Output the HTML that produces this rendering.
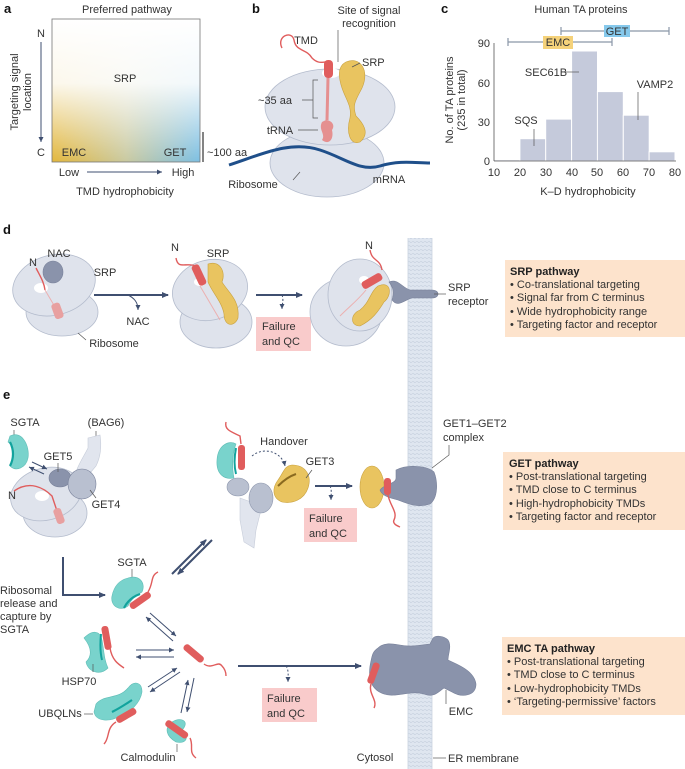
<!DOCTYPE html>
<html><head><meta charset="utf-8"><style>
html,body{margin:0;padding:0;background:#fff}
svg{display:block}
text{font-family:"Liberation Sans",sans-serif;font-size:11px;fill:#333}
.b{font-weight:bold;fill:#222}
.lbl{font-weight:bold;font-size:13px;fill:#111}
.rib{fill:#dfe3ec;stroke:#b4bccd;stroke-width:0.8}
.gr{fill:#8a93ab;stroke:#78819a;stroke-width:0.6}
.tl{fill:#79d3cc;stroke:#5fbdb6;stroke-width:0.6}
.ye{fill:#e9c460;stroke:#c9a240;stroke-width:0.6}
.rd{fill:#e05d5d}
.rl{fill:none;stroke:#e05d5d;stroke-width:1.4}
.ar{stroke:#3f4f70;stroke-width:2;fill:none}
.ar1{stroke:#3f4f70;stroke-width:1;fill:none}
.ln{stroke:#555;stroke-width:0.7;fill:none}
.dash{stroke:#3f4f70;stroke-width:1;stroke-dasharray:2 2;fill:none}
</style></head><body>
<svg width="685" height="769" viewBox="0 0 685 769" xmlns="http://www.w3.org/2000/svg">
<defs>
<marker id="ah" markerWidth="8" markerHeight="8" refX="6" refY="3" orient="auto" markerUnits="userSpaceOnUse"><path d="M0,0 L7,3 L0,6 z" fill="#3f4f70"/></marker>
<marker id="as" markerWidth="6" markerHeight="6" refX="5" refY="2.5" orient="auto" markerUnits="userSpaceOnUse"><path d="M0,0 L5,2.5 L0,5 z" fill="#3f4f70"/></marker>
<linearGradient id="gx" x1="0" x2="1" y1="0" y2="0"><stop offset="0" stop-color="#e3b73c"/><stop offset="0.5" stop-color="#c9c9a0"/><stop offset="1" stop-color="#7cbfe3"/></linearGradient>
<linearGradient id="gw" x1="0" x2="0" y1="0" y2="1"><stop offset="0" stop-color="#fff" stop-opacity="1"/><stop offset="0.45" stop-color="#fff" stop-opacity="0.9"/><stop offset="1" stop-color="#fff" stop-opacity="0"/></linearGradient>
<pattern id="mem" width="4" height="4" patternUnits="userSpaceOnUse"><rect width="4" height="4" fill="#dfe6f0"/><path d="M0,2 Q1,1 2,2 T4,2" stroke="#c6d0de" stroke-width="0.6" fill="none"/></pattern>
</defs>

<!-- membrane -->
<rect x="408" y="238" width="24" height="531" fill="url(#mem)"/>
<line x1="408" y1="238" x2="408" y2="769" stroke="#c9d2e0" stroke-width="0.8"/>
<line x1="432" y1="238" x2="432" y2="769" stroke="#c9d2e0" stroke-width="0.8"/>

<!-- Panel a -->
<text x="4" y="13" class="lbl">a</text>
<text x="127" y="13" text-anchor="middle">Preferred pathway</text>
<rect x="52" y="19" width="148" height="143" fill="url(#gx)"/>
<rect x="52" y="19" width="148" height="143" fill="url(#gw)"/>
<rect x="52" y="19" width="148" height="143" fill="none" stroke="#777" stroke-width="0.8"/>
<text x="41" y="37" text-anchor="middle">N</text>
<text x="41" y="156" text-anchor="middle">C</text>
<line x1="41" y1="42" x2="41" y2="142" class="ar1" marker-end="url(#as)"/>
<text transform="translate(18,92) rotate(-90)" text-anchor="middle">Targeting signal</text>
<text transform="translate(31,92) rotate(-90)" text-anchor="middle">location</text>
<text x="125" y="82" text-anchor="middle">SRP</text>
<text x="74" y="156" text-anchor="middle">EMC</text>
<text x="175" y="156" text-anchor="middle">GET</text>
<line x1="203" y1="132" x2="203" y2="162" stroke="#333" stroke-width="1.2"/>
<text x="207" y="156">~100 aa</text>
<text x="69" y="176" text-anchor="middle">Low</text>
<line x1="87" y1="172" x2="162" y2="172" class="ar1" marker-end="url(#as)"/>
<text x="183" y="176" text-anchor="middle">High</text>
<text x="125" y="195" text-anchor="middle">TMD hydrophobicity</text>

<!-- Panel b -->
<text x="252" y="13" class="lbl">b</text>
<text x="369" y="14" text-anchor="middle">Site of signal</text>
<text x="369" y="27" text-anchor="middle">recognition</text>
<line x1="338" y1="30" x2="338" y2="62" class="ln"/>
<ellipse cx="327" cy="163" rx="57" ry="34" class="rib"/>
<ellipse cx="330" cy="107" rx="65" ry="38" class="rib"/>
<ellipse cx="331" cy="73" rx="9" ry="5" fill="#fff"/>
<path d="M229,165 C260,155 290,140 320,150 C345,158 360,172 380,166 C400,160 415,163 430,163" stroke="#1f4f8a" stroke-width="3" fill="none"/>
<path d="M282,48 C276,36 292,30 294,40 C296,52 306,48 312,58 C318,64 322,62 326,62" class="rl"/>
<rect x="324" y="60" width="9" height="18" rx="4" class="rd"/>
<path d="M328,78 L327,120" stroke="#e59090" stroke-width="3" fill="none"/>
<path d="M322,122 C318,130 326,134 322,140 C330,146 334,138 332,130 C336,124 330,120 326,120 z" fill="#e59090"/>
<path d="M346,62 C360,56 370,70 362,88 C356,100 352,104 356,116 C364,124 370,134 360,142 C350,146 346,132 350,118 C352,106 346,100 342,88 C338,76 338,66 346,62 z" class="ye"/>
<text x="306" y="44" text-anchor="middle">TMD</text>
<text x="362" y="66">SRP</text>
<line x1="352" y1="67" x2="360" y2="63" class="ln"/>
<text x="275" y="104" text-anchor="middle">~35 aa</text>
<path d="M318,80 L313,80 L313,118 L318,118 M313,100 L302,100" class="ln"/>
<text x="280" y="134" text-anchor="middle">tRNA</text>
<line x1="298" y1="130" x2="318" y2="130" class="ln"/>
<text x="253" y="188" text-anchor="middle">Ribosome</text>
<line x1="293" y1="180" x2="300" y2="172" class="ln"/>
<text x="389" y="183" text-anchor="middle">mRNA</text>

<!-- Panel c -->
<text x="441" y="13" class="lbl">c</text>
<text x="581" y="13" text-anchor="middle">Human TA proteins</text>
<g fill="#c5cadb" stroke="#fff" stroke-width="1">
<rect x="494" y="159.7" width="25.9" height="1.3"/>
<rect x="519.9" y="138.7" width="25.9" height="22.3"/>
<rect x="545.7" y="119.1" width="25.9" height="41.9"/>
<rect x="571.6" y="51" width="25.9" height="110"/>
<rect x="597.4" y="91.6" width="25.9" height="69.4"/>
<rect x="623.3" y="115.2" width="25.9" height="45.8"/>
<rect x="649.1" y="151.8" width="25.9" height="9.2"/>
</g>
<line x1="494" y1="43" x2="494" y2="161" stroke="#555" stroke-width="0.8"/>
<line x1="494" y1="161" x2="676" y2="161" stroke="#555" stroke-width="0.8"/>
<g text-anchor="end"><text x="490" y="165">0</text><text x="490" y="126">30</text><text x="490" y="87">60</text><text x="490" y="47">90</text></g>
<g text-anchor="middle"><text x="494" y="176">10</text><text x="520" y="176">20</text><text x="546" y="176">30</text><text x="572" y="176">40</text><text x="597" y="176">50</text><text x="623" y="176">60</text><text x="649" y="176">70</text><text x="675" y="176">80</text></g>
<text transform="translate(453,100) rotate(-90)" text-anchor="middle">No. of TA proteins</text>
<text transform="translate(465,100) rotate(-90)" text-anchor="middle">(235 in total)</text>
<text x="588" y="195" text-anchor="middle">K–D hydrophobicity</text>
<path d="M508,42 L612,42 M508,38 L508,46 M612,38 L612,46" stroke="#8a97a8" stroke-width="1.2"/>
<path d="M561,31 L669,31 M561,27 L561,35 M669,27 L669,35" stroke="#8a97a8" stroke-width="1.2"/>
<rect x="543" y="36" width="30" height="13" fill="#f5d27a"/><text x="558" y="46" text-anchor="middle">EMC</text>
<rect x="604" y="25" width="26" height="12" fill="#86c9ec"/><text x="617" y="35" text-anchor="middle">GET</text>
<text x="546" y="76" text-anchor="middle">SEC61B</text><line x1="564" y1="72" x2="579" y2="72" class="ln"/>
<text x="655" y="88" text-anchor="middle">VAMP2</text><line x1="638" y1="92" x2="638" y2="120" class="ln"/>
<text x="526" y="124" text-anchor="middle">SQS</text><line x1="534" y1="129" x2="534" y2="146" class="ln"/>

<!-- Panel d -->
<text x="3" y="234" class="lbl">d</text>
<ellipse cx="62" cy="312" rx="36" ry="24" class="rib"/>
<ellipse cx="54" cy="285" rx="42" ry="30" class="rib" transform="rotate(-15 54 285)"/>
<ellipse cx="41" cy="288" rx="7" ry="5" fill="#fff"/>
<ellipse cx="53" cy="272" rx="10" ry="11" class="gr"/>
<text x="59" y="257" text-anchor="middle">NAC</text>
<text x="33" y="266" text-anchor="middle">N</text>
<path d="M36,268 C40,276 44,282 45,290" class="rl"/>
<path d="M45,290 L58,312" stroke="#ecb0b0" stroke-width="1"/>
<rect x="53" y="303" width="9" height="16" rx="3" fill="#e8a0a0" transform="rotate(-20 57 311)"/>
<text x="114" y="347" text-anchor="middle">Ribosome</text><line x1="78" y1="333" x2="86" y2="340" class="ln"/>
<line x1="94" y1="295" x2="168" y2="295" class="ar" marker-end="url(#ah)"/>
<text x="105" y="276" text-anchor="middle">SRP</text>
<path d="M128,295 C134,298 138,302 138,310" class="ar1" marker-end="url(#as)"/>
<text x="138" y="325" text-anchor="middle">NAC</text>

<ellipse cx="216" cy="322" rx="36" ry="26" class="rib"/>
<ellipse cx="210" cy="290" rx="38" ry="30" class="rib" transform="rotate(-15 210 290)"/>
<ellipse cx="200" cy="282" rx="6" ry="4" fill="#fff"/>
<path d="M200,286 L220,320" stroke="#ecb0b0" stroke-width="1"/>
<path d="M176,258 C178,270 186,262 196,266" class="rl"/>
<rect x="195" y="264" width="8" height="22" rx="3" class="rd" transform="rotate(-25 199 275)"/>
<path d="M208,264 C220,260 226,272 222,282 C228,292 240,300 238,318 C234,328 224,326 224,314 C222,302 212,292 208,282 z" class="ye"/>
<text x="175" y="251" text-anchor="middle">N</text>
<text x="218" y="257" text-anchor="middle">SRP</text>
<line x1="256" y1="295" x2="302" y2="295" class="ar" marker-end="url(#ah)"/>
<path d="M282,295 C284,300 282,304 282,309" class="dash" marker-end="url(#as)"/>
<rect x="256" y="317" width="55" height="34" fill="#f9cbcb"/>
<text x="262" y="330">Failure</text><text x="262" y="345">and QC</text>

<ellipse cx="346" cy="312" rx="36" ry="34" class="rib"/>
<ellipse cx="360" cy="295" rx="32" ry="36" class="rib"/>
<ellipse cx="364" cy="280" rx="5" ry="4" fill="#fff"/>
<path d="M340,316 C350,306 358,300 366,290" stroke="#ecb0b0" stroke-width="1" fill="none"/>
<path d="M370,250 C372,262 380,258 382,270" class="rl"/>
<rect x="368" y="270" width="8" height="22" rx="3" class="rd" transform="rotate(60 372 281)"/>
<path d="M378,286 C392,280 392,296 384,302 C378,312 372,320 360,326 C350,326 350,314 360,310 C370,302 370,292 378,286 z" class="ye"/>
<path d="M389,282 C398,278 402,288 410,290 L432,290 C440,290 440,298 432,298 L412,298 C404,300 398,308 392,300 C394,294 394,288 389,282 z" class="gr"/>
<text x="369" y="249" text-anchor="middle">N</text>
<line x1="434" y1="294" x2="446" y2="294" class="ln"/>
<text x="448" y="291">SRP</text><text x="448" y="305">receptor</text>
<rect x="505" y="260" width="180" height="77" fill="#fde3cc"/>
<text x="510" y="275" class="b">SRP pathway</text>
<text x="510" y="288">• Co-translational targeting</text>
<text x="510" y="301">• Signal far from C terminus</text>
<text x="510" y="315">• Wide hydrophobicity range</text>
<text x="510" y="328">• Targeting factor and receptor</text>

<!-- Panel e -->
<text x="3" y="399" class="lbl">e</text>
<text x="25" y="426" text-anchor="middle">SGTA</text>
<text x="106" y="426" text-anchor="middle">(BAG6)</text>
<line x1="14" y1="430" x2="14" y2="440" class="ln"/>
<path d="M10,436 C22,430 30,446 28,458 C26,468 16,472 10,466 C16,456 14,446 8,442 z" class="tl"/>
<path d="M10,442 C14,450 14,458 10,466" stroke="#12a39d" stroke-width="2.2" fill="none"/>
<line x1="96" y1="431" x2="96" y2="438" class="ln"/>
<path d="M88,438 L100,435 C102,448 100,458 96,466 L86,478 L74,484 C74,470 82,460 88,448 z" fill="#e1e5ee" stroke="#c6ccd9" stroke-width="0.6"/>
<ellipse cx="55" cy="513" rx="32" ry="24" class="rib"/>
<ellipse cx="46" cy="494" rx="36" ry="26" class="rib" transform="rotate(-15 46 494)"/>
<ellipse cx="42" cy="496" rx="7" ry="5" fill="#fff"/>
<path d="M14,491 C30,480 44,488 52,496 L60,520" class="rl"/>
<rect x="55" y="508" width="8" height="16" rx="3" fill="#e8a0a0" transform="rotate(-20 59 516)"/>
<ellipse cx="60" cy="478" rx="11" ry="9" class="gr" fill="#b9c0d0"/>
<ellipse cx="82" cy="484" rx="14" ry="15" class="gr" style="fill:#b9c0d0"/>
<text x="8" y="499">N</text>
<text x="58" y="460" text-anchor="middle">GET5</text>
<line x1="58" y1="463" x2="58" y2="472" class="ln"/>
<text x="106" y="508" text-anchor="middle">GET4</text>
<line x1="90" y1="490" x2="96" y2="498" class="ln"/>
<line x1="32" y1="462" x2="47" y2="469" class="ar1" marker-end="url(#as)"/>
<line x1="44" y1="474" x2="29" y2="467" class="ar1" marker-end="url(#as)"/>
<path d="M63,557 L63,595 L105,595" class="ar" marker-end="url(#ah)"/>
<text x="0" y="594">Ribosomal</text><text x="0" y="607">release and</text><text x="0" y="620">capture by</text><text x="0" y="633">SGTA</text>

<text x="132" y="566" text-anchor="middle">SGTA</text>
<line x1="132" y1="569" x2="132" y2="580" class="ln"/>
<path d="M128,578 C140,574 146,584 142,592 C136,596 132,598 128,606 C120,612 110,606 112,596 C114,586 120,580 128,578 z" class="tl"/>
<path d="M124,608 C128,600 134,596 140,594" stroke="#12a39d" stroke-width="2.2" fill="none"/>
<rect x="128" y="597" width="24" height="7" rx="3" class="rd" transform="rotate(-35 140 600)"/>
<path d="M148,592 C154,582 150,576 158,572" class="rl"/>
<line x1="172" y1="574" x2="206" y2="540" class="ar" marker-end="url(#ah)"/>
<line x1="212" y1="540" x2="178" y2="574" class="ar" marker-end="url(#ah)"/>

<!-- handover group -->
<path d="M226,422 C224,430 232,432 240,436 L241,444" class="rl"/>
<path d="M236,444 C230,440 218,444 217,460 C216,474 224,480 234,478 C232,468 232,454 236,444 z" class="tl"/>
<path d="M236,448 C234,458 234,466 236,474" stroke="#12a39d" stroke-width="2" fill="none"/>
<rect x="238" y="445" width="7" height="25" rx="3" class="rd"/>
<text x="284" y="445" text-anchor="middle">Handover</text>
<path d="M252,456 C264,446 282,452 285,466" class="dash" marker-end="url(#as)"/>
<ellipse cx="238" cy="487" rx="11" ry="9" style="fill:#b9c0d0;stroke:#8f98ae;stroke-width:0.6"/>
<path d="M240,498 L262,506 L256,530 L254,548 L244,542 L240,520 z" fill="#e1e5ee" stroke="#c6ccd9" stroke-width="0.6"/>
<ellipse cx="261" cy="498" rx="12" ry="15" style="fill:#b9c0d0;stroke:#8f98ae;stroke-width:0.6"/>
<path d="M292,465 C306,465 312,476 308,488 C304,500 292,504 282,502 C272,498 272,488 278,480 C284,472 284,466 292,465 z" class="ye"/>
<path d="M278,486 C284,480 290,476 296,474" stroke="#8a6a20" stroke-width="2" fill="none"/>
<text x="320" y="465" text-anchor="middle">GET3</text>
<line x1="306" y1="478" x2="312" y2="470" class="ln"/>
<line x1="315" y1="486" x2="352" y2="486" class="ar" marker-end="url(#ah)"/>
<path d="M330,486 C332,490 331,494 331,500" class="dash" marker-end="url(#as)"/>
<rect x="304" y="508" width="53" height="34" fill="#f9cbcb"/>
<text x="309" y="522">Failure</text><text x="309" y="537">and QC</text>

<ellipse cx="372" cy="487" rx="12" ry="21" class="ye"/>
<path d="M396,470 C408,464 428,466 434,472 C438,482 438,498 430,504 C418,508 408,504 398,500 C390,498 382,496 380,490 C384,484 396,484 396,478 z" class="gr"/>
<rect x="384" y="478" width="7" height="17" rx="3" class="rd"/>
<path d="M388,495 C390,506 398,512 394,520 C392,524 398,526 400,527" class="rl"/>
<text x="443" y="427">GET1–GET2</text><text x="443" y="441">complex</text>
<path d="M449,445 L449,455 L432,468" class="ln"/>
<rect x="503" y="452" width="182" height="78" fill="#fde3cc"/>
<text x="509" y="467" class="b">GET pathway</text>
<text x="509" y="480">• Post-translational targeting</text>
<text x="509" y="493">• TMD close to C terminus</text>
<text x="509" y="507">• High-hydrophobicity TMDs</text>
<text x="509" y="520">• Targeting factor and receptor</text>

<!-- cycle -->
<rect x="182" y="650" width="24" height="7" rx="3" class="rd" transform="rotate(40 194 653)"/>
<path d="M204,664 C212,670 218,660 222,666 C226,670 226,674 226,676" class="rl"/>
<path d="M84,638 C92,630 100,630 102,640 C104,650 104,660 108,668 C100,676 88,672 86,662 C92,656 92,648 84,638 z" class="tl"/>
<path d="M101,634 C100,644 100,652 102,660" stroke="#12a39d" stroke-width="2" fill="none"/>
<rect x="103" y="626" width="7" height="24" rx="3" class="rd" transform="rotate(-10 106 638)"/>
<path d="M110,648 C112,660 118,664 124,668" class="rl"/>
<text x="79" y="685" text-anchor="middle">HSP70</text><line x1="93" y1="672" x2="93" y2="664" class="ln"/>
<path d="M96,704 C104,694 118,700 128,688 C134,680 142,682 142,692 C140,704 130,712 120,716 C110,722 96,722 94,712 z" class="tl"/>
<path d="M112,712 C120,708 126,704 132,700" stroke="#12a39d" stroke-width="2.2" fill="none"/>
<rect x="115" y="712" width="22" height="7" rx="3" class="rd" transform="rotate(-30 126 715)"/>
<path d="M116,722 C106,728 110,738 104,744" class="rl"/>
<text x="60" y="717" text-anchor="middle">UBQLNs</text><line x1="84" y1="714" x2="93" y2="714" class="ln"/>
<path d="M172,722 C182,716 190,722 182,730 C190,738 186,744 176,742 C166,736 164,728 172,722 z" class="tl"/>
<rect x="164" y="726" width="26" height="7" rx="3" class="rd" transform="rotate(35 177 729)"/>
<path d="M190,738 C194,746 188,752 196,758" class="rl"/>
<text x="148" y="761" text-anchor="middle">Calmodulin</text><line x1="177" y1="744" x2="177" y2="752" class="ln"/>
<line x1="150" y1="613" x2="176" y2="636" class="ar1" marker-end="url(#as)"/>
<line x1="173" y1="641" x2="146" y2="617" class="ar1" marker-end="url(#as)"/>
<line x1="136" y1="650" x2="174" y2="650" class="ar1" marker-end="url(#as)"/>
<line x1="174" y1="657" x2="136" y2="657" class="ar1" marker-end="url(#as)"/>
<line x1="148" y1="687" x2="177" y2="668" class="ar1" marker-end="url(#as)"/>
<line x1="180" y1="672" x2="150" y2="692" class="ar1" marker-end="url(#as)"/>
<line x1="181" y1="713" x2="188" y2="680" class="ar1" marker-end="url(#as)"/>
<line x1="194" y1="678" x2="187" y2="712" class="ar1" marker-end="url(#as)"/>
<line x1="238" y1="666" x2="361" y2="666" class="ar" marker-end="url(#ah)"/>
<path d="M286,666 C289,670 288,676 288,682" class="dash" marker-end="url(#as)"/>
<rect x="262" y="688" width="55" height="34" fill="#f9cbcb"/>
<text x="267" y="702">Failure</text><text x="267" y="717">and QC</text>

<path d="M378,648 C386,640 398,646 410,646 C420,646 428,644 430,644 L432,640 C434,634 444,636 448,640 C452,646 448,654 448,660 C456,664 474,670 476,684 C476,696 462,698 452,692 L444,688 C438,692 434,698 424,694 C410,690 396,698 384,694 C372,690 368,680 370,666 C372,656 372,652 378,648 z" class="gr"/>
<rect x="370" y="662" width="7" height="22" rx="3" class="rd" transform="rotate(20 373 673)"/>
<path d="M371,684 C368,694 378,700 374,708" class="rl"/>
<text x="461" y="715" text-anchor="middle">EMC</text><line x1="446" y1="690" x2="446" y2="704" class="ln"/>
<rect x="502" y="637" width="183" height="78" fill="#fde3cc"/>
<text x="507" y="652" class="b">EMC TA pathway</text>
<text x="507" y="665">• Post-translational targeting</text>
<text x="507" y="678">• TMD close to C terminus</text>
<text x="507" y="692">• Low-hydrophobicity TMDs</text>
<text x="507" y="705">• ‘Targeting-permissive’ factors</text>

<text x="375" y="761" text-anchor="middle">Cytosol</text>
<line x1="433" y1="758" x2="446" y2="758" class="ln"/>
<text x="448" y="762">ER membrane</text>
</svg>
</body></html>
